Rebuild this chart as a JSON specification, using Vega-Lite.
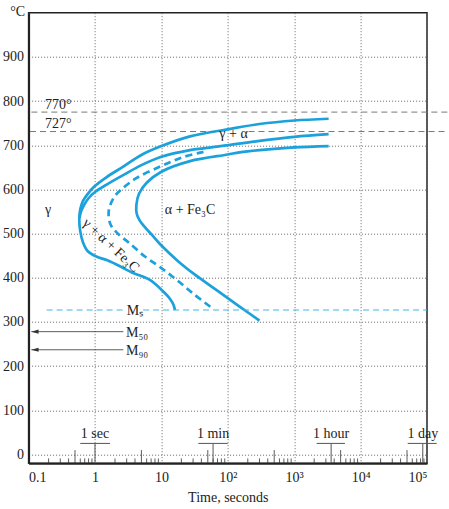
{
  "$schema": "https://vega.github.io/schema/vega-lite/v6.json",
  "width": 398.4,
  "height": 450.6,
  "autosize": {"type": "none"},
  "padding": {"left": 28.6, "top": 12.7, "right": 22, "bottom": 45.7},
  "background": "#ffffff",
  "datasets": {
    "curves": [
      {"curve": "A", "i": 1, "t": 3300, "T": 760},
      {"curve": "A", "i": 2, "t": 1000, "T": 756},
      {"curve": "A", "i": 3, "t": 300, "T": 748},
      {"curve": "A", "i": 4, "t": 100, "T": 736},
      {"curve": "A", "i": 5, "t": 27, "T": 720},
      {"curve": "A", "i": 6, "t": 10, "T": 698},
      {"curve": "A", "i": 7, "t": 5, "T": 678},
      {"curve": "A", "i": 8, "t": 2.7, "T": 652},
      {"curve": "A", "i": 9, "t": 1.5, "T": 628},
      {"curve": "A", "i": 10, "t": 0.95, "T": 605},
      {"curve": "A", "i": 11, "t": 0.78, "T": 590},
      {"curve": "A", "i": 12, "t": 0.66, "T": 574},
      {"curve": "A", "i": 13, "t": 0.6, "T": 555},
      {"curve": "A", "i": 14, "t": 0.58, "T": 530},
      {"curve": "A", "i": 15, "t": 0.6, "T": 505},
      {"curve": "A", "i": 16, "t": 0.66, "T": 480},
      {"curve": "A", "i": 17, "t": 0.78, "T": 460},
      {"curve": "A", "i": 18, "t": 1.05, "T": 448},
      {"curve": "A", "i": 19, "t": 1.5, "T": 440},
      {"curve": "A", "i": 20, "t": 2.1, "T": 430},
      {"curve": "A", "i": 21, "t": 3.6, "T": 412},
      {"curve": "A", "i": 22, "t": 6.7, "T": 395},
      {"curve": "A", "i": 23, "t": 10.3, "T": 371},
      {"curve": "A", "i": 24, "t": 13.5, "T": 352},
      {"curve": "A", "i": 25, "t": 15.3, "T": 338},
      {"curve": "A", "i": 26, "t": 16, "T": 327},
      {"curve": "B", "i": 1, "t": 3300, "T": 725},
      {"curve": "B", "i": 2, "t": 1000, "T": 719},
      {"curve": "B", "i": 3, "t": 300, "T": 710},
      {"curve": "B", "i": 4, "t": 100, "T": 700},
      {"curve": "B", "i": 5, "t": 43, "T": 693},
      {"curve": "B", "i": 6, "t": 27, "T": 689},
      {"curve": "B", "i": 7, "t": 10, "T": 674},
      {"curve": "B", "i": 8, "t": 5, "T": 655},
      {"curve": "B", "i": 9, "t": 2.7, "T": 633},
      {"curve": "B", "i": 10, "t": 1.5, "T": 611},
      {"curve": "B", "i": 11, "t": 1.0, "T": 594},
      {"curve": "B", "i": 12, "t": 0.8, "T": 580},
      {"curve": "B", "i": 13, "t": 0.68, "T": 564},
      {"curve": "B", "i": 14, "t": 0.61, "T": 548},
      {"curve": "B", "i": 15, "t": 0.585, "T": 535},
      {"curve": "C", "i": 1, "t": 3300, "T": 698},
      {"curve": "C", "i": 2, "t": 1000, "T": 695},
      {"curve": "C", "i": 3, "t": 300, "T": 689},
      {"curve": "C", "i": 4, "t": 150, "T": 684},
      {"curve": "C", "i": 5, "t": 100, "T": 679},
      {"curve": "C", "i": 6, "t": 27, "T": 664},
      {"curve": "C", "i": 7, "t": 10, "T": 640},
      {"curve": "C", "i": 8, "t": 6, "T": 615},
      {"curve": "C", "i": 9, "t": 4.6, "T": 590},
      {"curve": "C", "i": 10, "t": 4.2, "T": 565},
      {"curve": "C", "i": 11, "t": 4.25, "T": 545},
      {"curve": "C", "i": 12, "t": 4.7, "T": 530},
      {"curve": "C", "i": 13, "t": 5.6, "T": 515},
      {"curve": "C", "i": 14, "t": 7.1, "T": 498},
      {"curve": "C", "i": 15, "t": 10, "T": 473},
      {"curve": "C", "i": 16, "t": 18, "T": 437},
      {"curve": "C", "i": 17, "t": 32, "T": 407},
      {"curve": "C", "i": 18, "t": 57, "T": 380},
      {"curve": "C", "i": 19, "t": 100, "T": 354},
      {"curve": "C", "i": 20, "t": 160, "T": 332},
      {"curve": "C", "i": 21, "t": 300, "T": 303},
      {"curve": "D", "i": 1, "t": 43, "T": 685},
      {"curve": "D", "i": 2, "t": 21, "T": 673},
      {"curve": "D", "i": 3, "t": 10, "T": 653},
      {"curve": "D", "i": 4, "t": 4.25, "T": 626},
      {"curve": "D", "i": 5, "t": 2.5, "T": 600},
      {"curve": "D", "i": 6, "t": 2.0, "T": 585},
      {"curve": "D", "i": 7, "t": 1.7, "T": 565},
      {"curve": "D", "i": 8, "t": 1.6, "T": 545},
      {"curve": "D", "i": 9, "t": 1.72, "T": 520},
      {"curve": "D", "i": 10, "t": 2.2, "T": 500},
      {"curve": "D", "i": 11, "t": 3.2, "T": 480},
      {"curve": "D", "i": 12, "t": 5.65, "T": 448},
      {"curve": "D", "i": 13, "t": 10, "T": 422},
      {"curve": "D", "i": 14, "t": 18, "T": 392},
      {"curve": "D", "i": 15, "t": 32, "T": 361},
      {"curve": "D", "i": 16, "t": 56, "T": 333}
    ],
    "refLines": [
      {"line": "770", "t": 0.11, "t2": 210000, "T": 775},
      {"line": "727", "t": 0.105, "t2": 72, "T": 731},
      {"line": "727", "t": 205, "t2": 210000, "T": 731}
    ],
    "msLine": [
      {"t": 0.187, "t2": 2.8, "T": 327},
      {"t": 5.3, "t2": 100000, "T": 327}
    ],
    "arrows": [
      {"name": "M50", "t": 0.11, "t2": 2.67, "T": 278},
      {"name": "M90", "t": 0.11, "t2": 2.67, "T": 237}
    ],
    "minorTicks": [
      {"t": 0.2}, {"t": 0.3}, {"t": 0.4}, {"t": 0.6}, {"t": 0.7}, {"t": 0.8}, {"t": 0.9},
      {"t": 2}, {"t": 3}, {"t": 4}, {"t": 6}, {"t": 7}, {"t": 8}, {"t": 9},
      {"t": 20}, {"t": 30}, {"t": 40}, {"t": 60}, {"t": 70}, {"t": 80}, {"t": 90},
      {"t": 200}, {"t": 300}, {"t": 400}, {"t": 600}, {"t": 700}, {"t": 800}, {"t": 900},
      {"t": 2000}, {"t": 3000}, {"t": 4000}, {"t": 6000}, {"t": 7000}, {"t": 8000}, {"t": 9000},
      {"t": 20000}, {"t": 30000}, {"t": 40000}, {"t": 60000}, {"t": 70000}, {"t": 80000}, {"t": 90000}
    ],
    "midTicks": [
      {"t": 0.5}, {"t": 5}, {"t": 50}, {"t": 500}, {"t": 5000}, {"t": 50000}
    ],
    "timeMarks": [
      {"label": "1 sec", "t": 1, "lo": 0.6, "hi": 1.68},
      {"label": "1 min", "t": 60, "lo": 36, "hi": 100},
      {"label": "1 hour", "t": 3600, "lo": 2180, "hi": 5820},
      {"label": "1 day", "t": 86400, "lo": 51200, "hi": 140000}
    ],
    "labels": [
      {"group": "left", "text": "770°", "t": 0.177, "T": 790},
      {"group": "left", "text": "727°", "t": 0.177, "T": 747},
      {"group": "left", "text": "Mₛ", "t": 3.0, "T": 325},
      {"group": "left", "text": "M₅₀", "t": 2.93, "T": 276},
      {"group": "left", "text": "M₉₀", "t": 2.93, "T": 235},
      {"group": "center", "text": "γ", "t": 0.196, "T": 554},
      {"group": "center", "text": "α + Fe₃C", "t": 27, "T": 554},
      {"group": "center", "text": "γ + α", "t": 122, "T": 725},
      {"group": "diag", "text": "γ + α + Fe₃C", "t": 1.73, "T": 473}
    ]
  },
  "layer": [
    {
      "data": {"name": "curves"},
      "transform": [{"filter": "datum.curve != 'D'"}],
      "mark": {"type": "line", "color": "#1ba1db", "strokeWidth": 2.7, "interpolate": "catmull-rom"},
      "encoding": {
        "x": {
          "field": "t",
          "type": "quantitative",
          "scale": {"type": "log", "domain": [0.1, 100000], "nice": false},
          "axis": {
            "title": "Time, seconds",
            "values": [0.1, 1, 10, 100, 1000, 10000, 100000],
            "labelExpr": "datum.value == 100 ? '10²' : datum.value == 1000 ? '10³' : datum.value == 10000 ? '10⁴' : datum.value == 100000 ? '10⁵' : datum.value < 1 ? '0.1' : format(datum.value, 'd')",
            "labelPadding": 7,
            "titlePadding": 6
          }
        },
        "y": {
          "field": "T",
          "type": "quantitative",
          "scale": {"domain": [-20, 1000], "nice": false, "zero": false},
          "axis": {
            "title": "°C",
            "values": [0, 100, 200, 300, 400, 500, 600, 700, 800, 900],
            "titleAngle": 0,
            "titleAlign": "right",
            "titleBaseline": "alphabetic",
            "titleX": -4,
            "titleY": 3,
            "labelPadding": 5
          }
        },
        "detail": {"field": "curve"},
        "order": {"field": "i"}
      }
    },
    {
      "data": {"name": "curves"},
      "transform": [{"filter": "datum.curve == 'D'"}],
      "mark": {"type": "line", "color": "#1ba1db", "strokeWidth": 2.7, "strokeDash": [7, 4.5], "interpolate": "catmull-rom"},
      "encoding": {
        "x": {"field": "t", "type": "quantitative"},
        "y": {"field": "T", "type": "quantitative"},
        "order": {"field": "i"}
      }
    },
    {
      "data": {"name": "refLines"},
      "mark": {"type": "rule", "color": "#777777", "strokeWidth": 1, "strokeDash": [6, 4]},
      "encoding": {
        "x": {"field": "t", "type": "quantitative"},
        "x2": {"field": "t2"},
        "y": {"field": "T", "type": "quantitative"}
      }
    },
    {
      "data": {"name": "msLine"},
      "mark": {"type": "rule", "color": "#45b3e0", "strokeWidth": 1, "strokeDash": [6, 4]},
      "encoding": {
        "x": {"field": "t", "type": "quantitative"},
        "x2": {"field": "t2"},
        "y": {"field": "T", "type": "quantitative"}
      }
    },
    {
      "data": {"name": "arrows"},
      "mark": {"type": "rule", "color": "#333333", "strokeWidth": 0.8},
      "encoding": {
        "x": {"field": "t", "type": "quantitative"},
        "x2": {"field": "t2"},
        "y": {"field": "T", "type": "quantitative"}
      }
    },
    {
      "data": {"name": "arrows"},
      "mark": {"type": "point", "shape": "M0,0L2.4,-0.7L2.4,0.7Z", "size": 36, "filled": true, "color": "#333333", "opacity": 1},
      "encoding": {
        "x": {"field": "t", "type": "quantitative"},
        "y": {"field": "T", "type": "quantitative"}
      }
    },
    {
      "data": {"name": "minorTicks"},
      "mark": {"type": "rule", "color": "#333333", "strokeWidth": 0.8},
      "encoding": {
        "x": {"field": "t", "type": "quantitative"},
        "y": {"datum": -20, "type": "quantitative"},
        "y2": {"datum": -9}
      }
    },
    {
      "data": {"name": "midTicks"},
      "mark": {"type": "rule", "color": "#333333", "strokeWidth": 0.8},
      "encoding": {
        "x": {"field": "t", "type": "quantitative"},
        "y": {"datum": -20, "type": "quantitative"},
        "y2": {"datum": 10}
      }
    },
    {
      "data": {"name": "timeMarks"},
      "mark": {"type": "rule", "color": "#555555", "strokeWidth": 1},
      "encoding": {
        "x": {"field": "t", "type": "quantitative"},
        "y": {"datum": -20, "type": "quantitative"},
        "y2": {"datum": 25}
      }
    },
    {
      "data": {"name": "timeMarks"},
      "mark": {"type": "rule", "color": "#555555", "strokeWidth": 1},
      "encoding": {
        "x": {"field": "lo", "type": "quantitative"},
        "x2": {"field": "hi"},
        "y": {"datum": 25, "type": "quantitative"}
      }
    },
    {
      "data": {"name": "timeMarks"},
      "mark": {"type": "text", "baseline": "alphabetic", "align": "center"},
      "encoding": {
        "x": {"field": "t", "type": "quantitative"},
        "y": {"datum": 37, "type": "quantitative"},
        "text": {"field": "label"}
      }
    },
    {
      "data": {"name": "labels"},
      "transform": [{"filter": "datum.group == 'left'"}],
      "mark": {"type": "text", "align": "left", "baseline": "middle"},
      "encoding": {
        "x": {"field": "t", "type": "quantitative"},
        "y": {"field": "T", "type": "quantitative"},
        "text": {"field": "text"}
      }
    },
    {
      "data": {"name": "labels"},
      "transform": [{"filter": "datum.group == 'center'"}],
      "mark": {"type": "text", "align": "center", "baseline": "middle"},
      "encoding": {
        "x": {"field": "t", "type": "quantitative"},
        "y": {"field": "T", "type": "quantitative"},
        "text": {"field": "text"}
      }
    },
    {
      "data": {"name": "labels"},
      "transform": [{"filter": "datum.group == 'diag'"}],
      "mark": {"type": "text", "align": "center", "baseline": "middle", "angle": 43},
      "encoding": {
        "x": {"field": "t", "type": "quantitative"},
        "y": {"field": "T", "type": "quantitative"},
        "text": {"field": "text"}
      }
    }
  ],
  "config": {
    "view": {"stroke": "#222222", "strokeWidth": 1.5},
    "font": "Liberation Serif",
    "text": {"font": "Liberation Serif", "fontSize": 14, "color": "#222222"},
    "axis": {
      "labelFont": "Liberation Serif",
      "labelFontSize": 14,
      "labelColor": "#222222",
      "titleFont": "Liberation Serif",
      "titleFontSize": 14,
      "titleFontWeight": "normal",
      "titleColor": "#222222",
      "ticks": false,
      "domainColor": "#222222",
      "domainWidth": 2,
      "grid": true,
      "gridColor": "#666666",
      "gridDash": [1, 2],
      "gridWidth": 1
    }
  }
}
